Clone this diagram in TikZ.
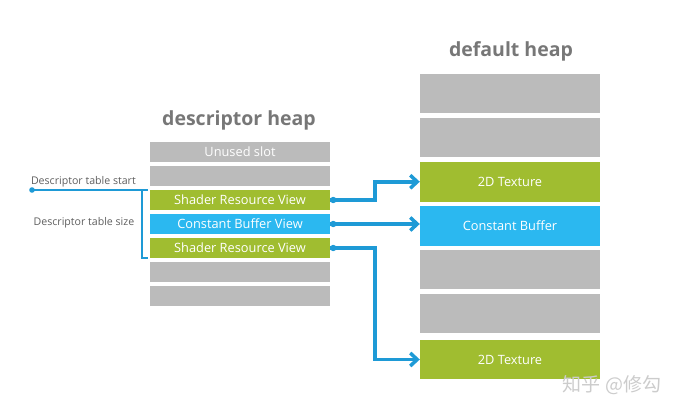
\documentclass[tikz,border=0pt]{standalone}
\usepackage{fontspec}
\setmainfont{Open Sans}
\newfontfamily\cjkfont{Noto Sans CJK SC}
\usetikzlibrary{arrows.meta}
\definecolor{slotgray}{HTML}{BBBBBB}
\definecolor{slotgreen}{HTML}{A0BD30}
\definecolor{slotblue}{HTML}{2BB8F0}
\definecolor{arrowblue}{HTML}{1E9AD6}
\definecolor{titlegray}{HTML}{777777}
\definecolor{labelgray}{HTML}{5E5E5E}
\definecolor{wmgray}{HTML}{CCCCCC}
\begin{document}
\begin{tikzpicture}[x=1pt,y=-1pt,
  dslot/.style={minimum width=180pt,minimum height=20pt,inner sep=0pt,text=white,font=\fontsize{12.8}{13}\selectfont},
  hslot/.style={minimum width=180pt,minimum height=39.5pt,inner sep=0pt,text=white,font=\fontsize{12.8}{13}\selectfont},
  heaptitle/.style={text=titlegray,font=\fontsize{19.5}{20}\selectfont\bfseries},
  sidelabel/.style={text=labelgray,font=\fontsize{10.6}{11}\selectfont,inner sep=0pt},
  link/.style={draw=arrowblue,line width=3.5pt,-{Straight Barb[length=7pt,width=13pt,line width=3.5pt]}},
  bracket/.style={draw=arrowblue,line width=1.8pt}]
\useasboundingbox (0,0) rectangle (686,420);
% descriptor heap
\node[heaptitle] (dtitle) at (239,120) {descriptor heap};
\node[dslot,fill=slotgray] (d1) at (240,152) {Unused slot};
\node[dslot,fill=slotgray] (d2) at (240,176) {};
\node[dslot,fill=slotgreen] (d3) at (240,200) {Shader Resource View};
\node[dslot,fill=slotblue] (d4) at (240,224) {Constant Buffer View};
\node[dslot,fill=slotgreen] (d5) at (240,248) {Shader Resource View};
\node[dslot,fill=slotgray] (d6) at (240,272) {};
\node[dslot,fill=slotgray] (d7) at (240,296) {};
% default heap
\node[heaptitle] (htitle) at (511,51) {default heap};
\node[hslot,fill=slotgray] (h1) at (510,93.5) {};
\node[hslot,fill=slotgray] (h2) at (510,137.5) {};
\node[hslot,fill=slotgreen] (h3) at (510,181.75) {2D Texture};
\node[hslot,fill=slotblue] (h4) at (510,225.75) {Constant Buffer};
\node[hslot,fill=slotgray] (h5) at (510,269.5) {};
\node[hslot,fill=slotgray] (h6) at (510,313.5) {};
\node[hslot,fill=slotgreen] (h7) at (510,359.5) {2D Texture};
% links
\draw[link] (d3.east) -- ++(45,0) |- (h3.west);
\draw[link] (d4.east) -- (d4.east -| h4.west);
\draw[link] (d5.east) -- ++(45,0) |- (h7.west);
\foreach \n in {d3,d4,d5} \fill[arrowblue] ([xshift=3pt]\n.east) circle (3.2pt);
% descriptor table labels
\node[sidelabel,anchor=east] (tstart) at (136,182) {Descriptor table start};
\node[sidelabel] (tsize) at (84,223) {Descriptor table size};
\coordinate (ts) at (32,190);
\coordinate (bt) at (142,190);
\coordinate (bb) at (142,258);
\fill[arrowblue] (ts) circle (2.8pt);
\draw[bracket] (ts) -- ([xshift=6pt]bt);
\draw[bracket] (bt) -- (bb) -- ([xshift=6pt]bb);
% watermark
\node[text=wmgray,font=\cjkfont\fontsize{19}{21}\selectfont] (wm) at (612,385) {知乎 @修勾};
\end{tikzpicture}
\end{document}
